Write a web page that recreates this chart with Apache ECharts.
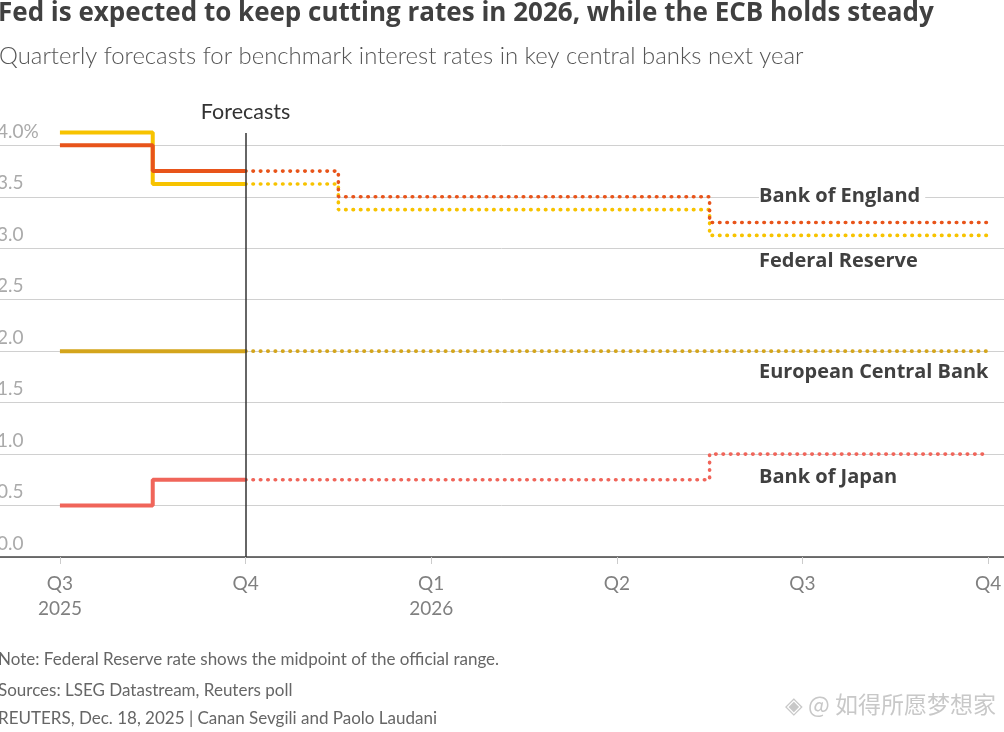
<!DOCTYPE html>
<html>
<head>
<meta charset="utf-8">
<script src="https://cdn.jsdelivr.net/npm/echarts@6/dist/echarts.min.js"></script>
<style>
  html, body { margin: 0; padding: 0; background: #fff; }
  #main { width: 1004px; height: 732px; }
</style>
</head>
<body>
<div id="main"></div>
<script>
// quarterly policy rates, index 0 = Q3 2025 ... 5 = Q4 2026
var quarters = ['Q3\n2025', 'Q4', 'Q1\n2026', 'Q2', 'Q3', 'Q4'];
var fedRate = [4.125, 3.625, 3.375, 3.375, 3.125, 3.125];
var boeRate = [4.0, 3.75, 3.5, 3.5, 3.25, 3.25];
var ecbRate = [2.0, 2.0, 2.0, 2.0, 2.0, 2.0];
var bojRate = [0.5, 0.75, 0.75, 0.75, 1.0, 1.0];
var lastActual = 1; // Q4 2025, forecasts start here

var banks = [
    { name: 'Federal Reserve', data: fedRate, color: '#f7c300' },
    { name: 'Bank of England', data: boeRate, color: '#e8541a' },
    { name: 'European Central Bank', data: ecbRate, color: '#d4a51c' },
    { name: 'Bank of Japan', data: bojRate, color: '#f0655a' }
];

var myChart = echarts.init(document.getElementById('main'));
var font = 'Lato';
var boldFont = '"Open Sans"';

var series = [];
banks.forEach(function (b, k) {
    var solid = [], dotted = [];
    b.data.forEach(function (v, i) {
        if (i <= lastActual) solid.push([i, v]);
        if (i >= lastActual) dotted.push([i, v]);
    });
    var s = {
        name: b.name, type: 'line', step: 'middle', data: solid,
        symbol: 'none', clip: false, silent: true, z: 5,
        lineStyle: { color: b.color, width: 4 }
    };
    if (k === 2) {
        s.markLine = {
            silent: true, symbol: 'none', z: 10,
            lineStyle: { color: '#333', width: 1.5, type: 'solid' },
            label: { position: 'end', formatter: 'Forecasts', color: '#333', fontFamily: font, fontSize: 21.5, distance: 10 },
            data: [{ xAxis: lastActual }]
        };
    }
    series.push(s);
    series.push({
        name: b.name + ' forecast', type: 'line', step: 'middle', data: dotted,
        symbol: 'none', clip: false, silent: true, z: 4,
        lineStyle: { color: b.color, width: 3.6, type: [0.5, 6.9], cap: 'round' }
    });
});

var option = {
    animation: false,
    backgroundColor: '#fff',
    grid: { left: -3, right: 0, top: 133, bottom: 175, outerBoundsMode: 'none' },
    xAxis: {
        type: 'value', min: -0.339, max: 5.086,
        splitLine: { show: false },
        axisLine: { lineStyle: { color: '#444', width: 1.5 } },
        axisTick: { show: true, length: 7, customValues: [0, 1, 2, 3, 4, 5], lineStyle: { color: '#ccc' } },
        axisLabel: {
            customValues: [0, 1, 2, 3, 4, 5],
            formatter: function (v) { return quarters[v]; },
            color: '#808080', fontFamily: font, fontSize: 19, lineHeight: 25, margin: 14
        }
    },
    yAxis: {
        type: 'value', min: 0, max: 4.12, interval: 0.5,
        axisLine: { show: false }, axisTick: { show: false },
        splitLine: { showMaxLine: false, lineStyle: { color: '#d0d0d0', width: 1 } },
        axisLabel: {
            inside: true, showMaxLabel: false, margin: 0,
            verticalAlign: 'bottom', padding: [0, 0, 4, 0],
            color: '#aaa', fontFamily: font, fontSize: 19,
            formatter: function (v) { return v === 4 ? '4.0%' : v.toFixed(1); }
        }
    },
    graphic: [
        { type: 'text', left: -2, top: 1, style: { text: 'Fed is expected to keep cutting rates in 2026, while the ECB holds steady', font: 'bold 26px ' + boldFont, fill: '#404040' } },
        { type: 'text', left: -1, top: 44, style: { text: 'Quarterly forecasts for benchmark interest rates in key central banks next year', font: '300 23.9px ' + font, fill: '#555' } },
        { type: 'text', left: 759, top: 186, z: 20, style: { text: 'Bank of England', font: 'bold 20px ' + boldFont, fill: '#404040', backgroundColor: '#fff', padding: [0, 5, 0, 0] } },
        { type: 'text', left: 759, top: 251, z: 20, style: { text: 'Federal Reserve', font: 'bold 20px ' + boldFont, fill: '#404040' } },
        { type: 'text', left: 759, top: 362, z: 20, style: { text: 'European Central Bank', font: 'bold 19.9px ' + boldFont, fill: '#404040' } },
        { type: 'text', left: 759, top: 467, z: 20, style: { text: 'Bank of Japan', font: 'bold 20px ' + boldFont, fill: '#404040' } },
        { type: 'text', left: -2, top: 651, style: { text: 'Note: Federal Reserve rate shows the midpoint of the official range.', font: '17px ' + font, fill: '#666' } },
        { type: 'text', left: -2, top: 682, style: { text: 'Sources: LSEG Datastream, Reuters poll', font: '17px ' + font, fill: '#666' } },
        { type: 'text', left: -2, top: 710, style: { text: 'REUTERS, Dec. 18, 2025 | Canan Sevgili and Paolo Laudani', font: '17px ' + font, fill: '#666' } },
        { type: 'text', right: 8, top: 693, style: { text: '◈ @ 如得所愿梦想家', font: '23px "Noto Sans CJK SC"', fill: '#c8c8c8' } }
    ],
    series: series
};
myChart.setOption(option);
</script>
</body>
</html>
